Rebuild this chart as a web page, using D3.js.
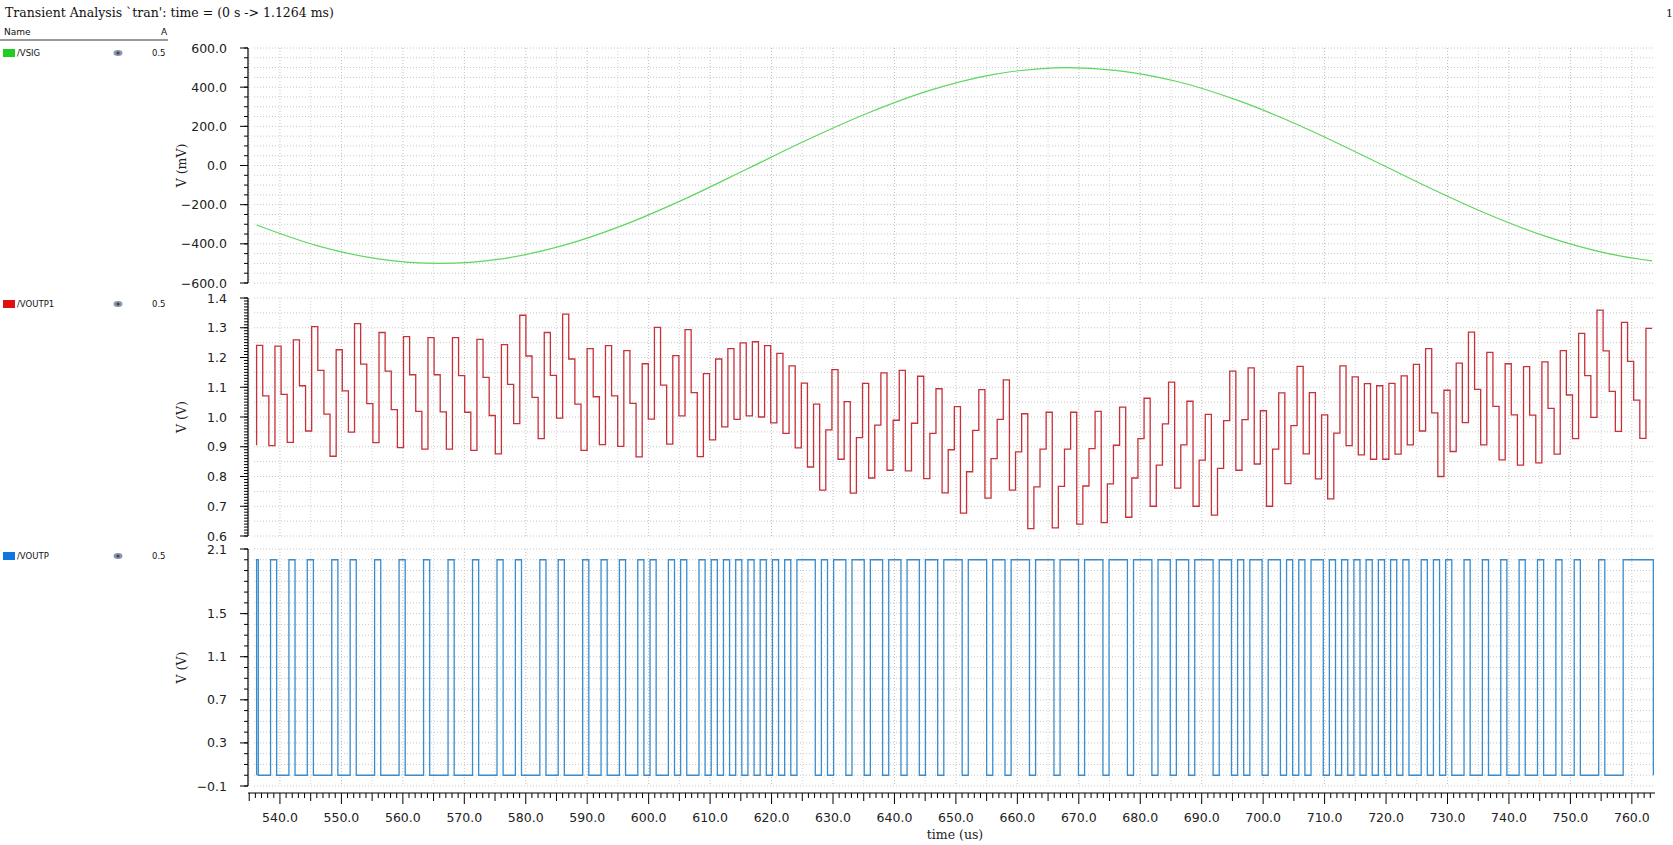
<!DOCTYPE html>
<html><head><meta charset="utf-8">
<script src="https://cdn.jsdelivr.net/npm/d3@7"></script>
<style>body{margin:0;background:#fff}svg{display:block}</style>
</head><body>
<svg id="c" width="1673" height="845"></svg>
<script>
// ---------- data ----------
const sigTimes = [536.2,546,556,566,576,586,596,606,616,626,636,646,656,666,676,686,696,706,716,726,736,746,756,763.3];
const sigValues = [-304,-409,-477,-500,-477,-409,-303,-169,-18,134,272,386,464,499,486,429,331,203,55,-98,-241,-362,-449,-487];

const clockStart = 536.2, clockPeriod = 0.996;
const outp1Initial = 0.905;
const outp1Levels = [
1.241,1.071,0.904, 1.238,1.076,0.915, 1.259,1.105,0.953, 1.304,1.157,1.010,0.868, 1.226,1.088,0.949,
1.314,1.178,1.045,0.914, 1.284,1.154,1.025,0.897, 1.270,1.142,1.019,0.892, 1.267,1.142,1.017,0.892,
1.267,1.139,1.016,0.888, 1.261,1.133,1.005,0.876, 1.243,1.110,0.978, 1.342,1.205,1.066,0.927,
1.284,1.140,0.996, 1.346,1.195,1.043,0.888,
1.230,1.068,0.907, 1.240,1.071,0.901, 1.223,1.046,0.866, 1.179,0.993, 1.301,1.107,0.909, 1.206,1.004,
1.294,1.082,0.867, 1.146,0.923, 1.195,0.967, 1.230,0.992, 1.249,1.004, 1.253,1.000, 1.240,0.980,
1.214,0.945, 1.172,0.896, 1.114,0.832, 1.043,0.754,
0.957,1.159,0.858,1.052,0.744,0.931,1.113,0.795,0.973,1.148,0.821,0.989,
1.157,0.819,0.979,1.137,0.793,0.945,1.095,0.745,0.890,1.035,
0.677,0.816,0.955,1.092,0.727,0.860,0.992,1.125,0.754,0.883,1.011,
0.625,0.765,0.892,1.016, 0.627,0.767,0.892,1.016, 0.640,0.768,0.894,1.019, 0.645,0.775,0.905,1.033,
0.663,0.795,0.927,1.063, 0.700,0.838,0.977,1.117,0.761,0.906,1.053, 0.700,0.855,1.009,0.670,
0.827,0.988,1.154,0.821,0.991,1.165,0.842,1.021,
0.700,0.892,1.081,0.776,0.971,1.170,0.876,1.082,0.792,1.007,
0.725,0.946,1.172,0.904,1.135,0.873,1.112,0.858,1.105,0.858,1.113,0.875,1.138,0.906,1.177,0.953,1.230,1.014,
0.800,1.090,0.884,1.181,0.981,1.285,1.093,0.906,1.217,1.036,0.856,1.179,1.007,0.838,1.169,1.006,0.846,1.185,1.029,
0.875,1.223,1.074,0.927,1.281,1.139,0.999,1.359,1.222,1.086,0.952,1.318,1.187,1.057,0.928,1.298
];
const outpBits = (
"100100100100010010001000100010001000100010010001001000"+
"100100100101001010010101010101010101"+"110101101101"+
"1011011011"+"01110111011"+"01110111011101110111"+"0111011"+"0110"+
"11101101"+"0110110101"+"011010101010101010"+"0101010010010010010"+
"0100100100010001").split("").map(Number);
const outpHigh = 2.0, outpLow = 0.0, outpLead = 0.72;

const xTicks = [540,550,560,570,580,590,600,610,620,630,640,650,660,670,680,690,700,710,720,730,740,750,760];
const sigTicks = [600,400,200,0,-200,-400,-600];
const outp1Ticks = [1.4,1.3,1.2,1.1,1.0,0.9,0.8,0.7,0.6];
const outpTicks = [2.1,1.7,1.3,0.9,0.5,0.1,-0.1].filter(v=>false).concat([2.1,1.5,1.1,0.7,0.3,-0.1]);

// ---------- layout ----------
const svg = d3.select("#c");
const L = 248, R = 1655;
const x = d3.scaleLinear().domain([536.2,763.8]).range([256.6, 256.6+(763.8-536.2)*6.145]);
const panels = [
 {name:"/VSIG", col:"#22cc22", line:"#5fd65f", y:d3.scaleLinear().domain([-600,600]).range([283,48]), ticks:sigTicks, minor:50, grid:50, fmt:d3.format(".1f"), label:"V (mV)", ly:53},
 {name:"/VOUTP1", col:"#dd1111", line:"#c8303a", y:d3.scaleLinear().domain([0.6,1.4]).range([536,298]), ticks:outp1Ticks, minor:0.01, grid:0.05, fmt:d3.format(".1f"), label:"V (V)", ly:304},
 {name:"/VOUTP", col:"#1177dd", line:"#3a8ccc", y:d3.scaleLinear().domain([-0.1,2.1]).range([786,549]), ticks:outpTicks, minor:0.1, grid:0.1, fmt:d3.format(".1f"), label:"V (V)", ly:556}
];

// title
svg.append("text").attr("x",5).attr("y",17).attr("font-family","DejaVu Serif").attr("font-size",12.5).attr("fill","#111")
  .text("Transient Analysis `tran': time = (0 s -> 1.1264 ms)");
svg.append("text").attr("x",1666).attr("y",17).attr("font-family","DejaVu Serif").attr("font-size",11).attr("fill","#111").text("1");
svg.append("text").attr("x",4).attr("y",35).attr("font-family","DejaVu Sans").attr("font-size",9).attr("fill","#111").text("Name");
svg.append("text").attr("x",161).attr("y",35).attr("font-family","DejaVu Sans").attr("font-size",9).attr("fill","#111").text("A");
svg.append("line").attr("x1",0).attr("x2",168).attr("y1",40).attr("y2",40).attr("stroke","#333");

panels.forEach(p=>{
  const g = svg.append("g");
  const [y0,y1] = p.y.range();
  // legend
  g.append("rect").attr("x",3).attr("y",p.ly-4).attr("width",12).attr("height",8).attr("fill",p.col);
  g.append("text").attr("x",17).attr("y",p.ly+3).attr("font-family","DejaVu Sans").attr("font-size",8.5).attr("fill","#111").text(p.name);
  g.append("ellipse").attr("cx",118).attr("cy",p.ly).attr("rx",4.5).attr("ry",3).attr("fill","#8a97a8");
  g.append("circle").attr("cx",118).attr("cy",p.ly).attr("r",1.6).attr("fill","#445");
  g.append("text").attr("x",152).attr("y",p.ly+3).attr("font-family","DejaVu Sans").attr("font-size",8.5).attr("fill","#111").text("0.5");
  // grid
  const [d0,d1] = p.y.domain();
  const hv = d3.range(Math.ceil(d0/p.grid-1e-6), Math.floor(d1/p.grid+1e-6)+1).map(k=>k*p.grid);
  g.selectAll(".hg").data(hv).enter().append("line").attr("x1",L+6).attr("x2",R).attr("y1",d=>p.y(d)).attr("y2",d=>p.y(d))
    .attr("stroke","#c8c8c8").attr("stroke-dasharray","1,2");
  const vv = d3.range(535,765,5);
  g.selectAll(".vg").data(vv).enter().append("line").attr("x1",d=>x(d)).attr("x2",d=>x(d)).attr("y1",y1).attr("y2",y0)
    .attr("stroke",d=>d%10===0?"#c0c0c0":"#d4d4d4").attr("stroke-dasharray","1,2");
  // y axis
  g.append("line").attr("x1",L).attr("x2",L).attr("y1",y1).attr("y2",y0).attr("stroke","#000").attr("stroke-width",1.2);
  const mt = d3.range(Math.ceil(d0/p.minor-1e-6), Math.floor(d1/p.minor+1e-6)+1).map(k=>k*p.minor);
  g.selectAll(".mt").data(mt).enter().append("line").attr("x1",L-4).attr("x2",L).attr("y1",d=>p.y(d)).attr("y2",d=>p.y(d)).attr("stroke","#000");
  g.selectAll(".Mt").data(p.ticks).enter().append("line").attr("x1",L-8).attr("x2",L).attr("y1",d=>p.y(d)).attr("y2",d=>p.y(d)).attr("stroke","#000");
  g.selectAll(".tl").data(p.ticks).enter().append("text").attr("x",227).attr("y",d=>p.y(d)+4.5).attr("text-anchor","end")
    .attr("font-family","DejaVu Sans").attr("font-size",12.5).attr("fill","#222").text(d=>p.fmt(d));
  g.append("text").attr("transform",`translate(186,${(y0+y1)/2}) rotate(-90)`).attr("text-anchor","middle")
    .attr("font-family","DejaVu Serif").attr("font-size",12.5).attr("fill","#222").text(p.label);
  p.g = g;
});

// VSIG
panels[0].g.append("path").datum(sigTimes.map((t,i)=>[t,sigValues[i]]))
  .attr("d",d3.line().x(d=>x(d[0])).y(d=>panels[0].y(d[1])).curve(d3.curveCatmullRom))
  .attr("fill","none").attr("stroke",panels[0].line).attr("stroke-width",1.2);

// VOUTP1 staircase
const p1 = [[clockStart,outp1Initial]].concat(outp1Levels.map((v,i)=>[clockStart+i*clockPeriod,v]));
p1.push([clockStart+outp1Levels.length*clockPeriod, outp1Levels[outp1Levels.length-1]]);
panels[1].g.append("path").datum(p1)
  .attr("d",d3.line().x(d=>x(Math.min(d[0],763.8))).y(d=>panels[1].y(d[1])).curve(d3.curveStepAfter))
  .attr("fill","none").attr("stroke",panels[1].line).attr("stroke-width",1.3);

// VOUTP pulses
const p2 = [[clockStart, outpLow]];
outpBits.forEach((b,i)=>{
  const t = Math.max(clockStart, clockStart+(i-outpLead)*clockPeriod);
  p2.push([t, b?outpHigh:outpLow]);
});
p2.push([763.5, outpLow]);
panels[2].g.append("path").datum(p2)
  .attr("d",d3.line().x(d=>x(d[0])).y(d=>panels[2].y(d[1])).curve(d3.curveStepAfter))
  .attr("fill","none").attr("stroke",panels[2].line).attr("stroke-width",1.3);

// x axis
const ax = svg.append("g");
ax.append("line").attr("x1",L).attr("x2",R).attr("y1",793).attr("y2",793).attr("stroke","#000").attr("stroke-width",1.2);
const xm = d3.range(535,764,1);
ax.selectAll(".xm").data(xm).enter().append("line").attr("x1",d=>x(d)).attr("x2",d=>x(d)).attr("y1",793)
  .attr("y2",d=>d%10===0?804:d%5===0?801:798).attr("stroke","#000");
ax.selectAll(".xl").data(xTicks).enter().append("text").attr("x",d=>x(d)).attr("y",822).attr("text-anchor","middle")
  .attr("font-family","DejaVu Sans").attr("font-size",12.5).attr("fill","#222").text(d=>d.toFixed(1));
ax.append("text").attr("x",955).attr("y",839).attr("text-anchor","middle").attr("font-family","DejaVu Serif")
  .attr("font-size",12.5).attr("fill","#222").text("time (us)");
</script>
</body></html>
